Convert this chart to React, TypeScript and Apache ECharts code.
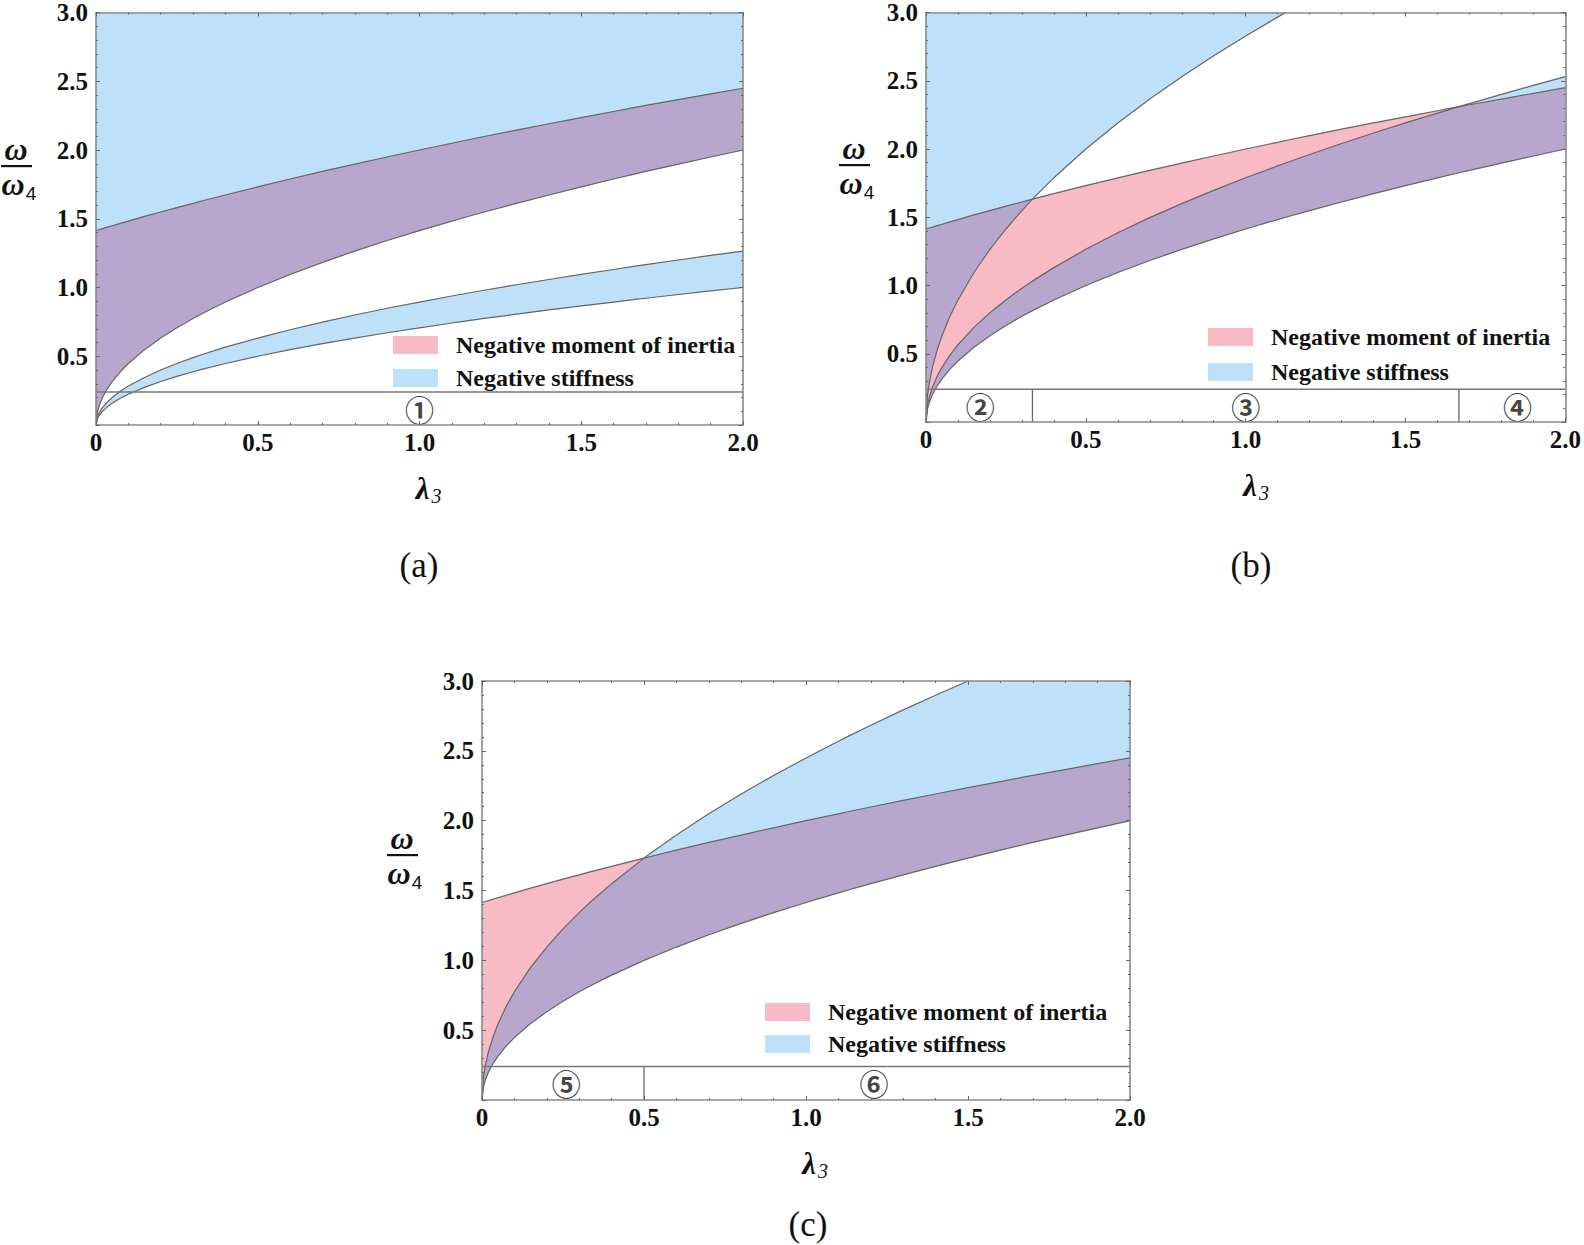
import React, { useEffect, useRef } from "react";
import * as echarts from "echarts";

// Shared λ3 sampling grid for every boundary curve
const LAMBDA = [
  0, 0.005, 0.01, 0.02, 0.035, 0.05, 0.075, 0.1,
  0.15, 0.2, 0.25, 0.3, 0.333, 0.4,
  0.5, 0.6, 0.7, 0.8, 0.9, 1.0,
  1.1, 1.125, 1.2, 1.3, 1.4, 1.5,
  1.6, 1.667, 1.7, 1.8, 1.9, 2.0,
];

// Upper / lower edges of the negative-moment-of-inertia band (all panels)
const INERTIA_UPPER = [
  1.414, 1.418, 1.421, 1.428, 1.439, 1.449, 1.466, 1.483,
  1.517, 1.549, 1.581, 1.612, 1.633, 1.673,
  1.732, 1.789, 1.844, 1.897, 1.949, 2.0,
  2.049, 2.062, 2.098, 2.145, 2.191, 2.236,
  2.28, 2.31, 2.324, 2.366, 2.408, 2.449,
];
const INERTIA_LOWER = [
  0, 0.1, 0.141, 0.2, 0.265, 0.316, 0.387, 0.447,
  0.548, 0.632, 0.707, 0.775, 0.816, 0.894,
  1.0, 1.095, 1.183, 1.265, 1.342, 1.414,
  1.483, 1.5, 1.549, 1.612, 1.673, 1.732,
  1.789, 1.826, 1.844, 1.897, 1.949, 2.0,
];

// Panel (a): narrow negative-stiffness band
const STIFF_A_LOWER = [
  0, 0.05, 0.071, 0.1, 0.132, 0.158, 0.194, 0.224,
  0.274, 0.316, 0.354, 0.387, 0.408, 0.447,
  0.5, 0.548, 0.592, 0.632, 0.671, 0.707,
  0.742, 0.75, 0.775, 0.806, 0.837, 0.866,
  0.894, 0.913, 0.922, 0.949, 0.975, 1.0,
];
const STIFF_A_UPPER = [
  0, 0.063, 0.089, 0.126, 0.167, 0.2, 0.245, 0.283,
  0.346, 0.4, 0.447, 0.49, 0.516, 0.566,
  0.632, 0.693, 0.748, 0.8, 0.849, 0.894,
  0.938, 0.949, 0.98, 1.02, 1.058, 1.095,
  1.131, 1.155, 1.166, 1.2, 1.233, 1.265,
];

// Panel (b): steep stiffness boundary (reaches ω/ω4 = 3 at λ3 = 1.125) and middle boundary
const STIFF_B_STEEP = [
  0, 0.2, 0.283, 0.4, 0.529, 0.632, 0.775, 0.894,
  1.095, 1.265, 1.414, 1.549, 1.633, 1.789,
  2.0, 2.191, 2.366, 2.53, 2.683, 2.828,
  2.966, 3.0,
];
const STIFF_B_MID = [
  0, 0.126, 0.179, 0.253, 0.335, 0.4, 0.49, 0.566,
  0.693, 0.8, 0.894, 0.98, 1.032, 1.131,
  1.265, 1.386, 1.497, 1.6, 1.697, 1.789,
  1.876, 1.897, 1.96, 2.04, 2.117, 2.191,
  2.263, 2.31, 2.332, 2.4, 2.466, 2.53,
];

// Panel (c): stiffness boundary (reaches ω/ω4 = 3 at λ3 = 1.5)
const STIFF_C_STEEP = [
  0, 0.173, 0.245, 0.346, 0.458, 0.548, 0.671, 0.775,
  0.949, 1.095, 1.225, 1.342, 1.414, 1.549,
  1.732, 1.897, 2.049, 2.191, 2.324, 2.449,
  2.569, 2.598, 2.683, 2.793, 2.898, 3.0,
];

// Zone strip along the bottom of each panel
const ZONE_LEVEL = 0.24;
const ZONE_LABEL_Y = 0.12;
const ZONE_A_TEXT = ["①"];
const ZONE_A_AT = [1.0];
const ZONE_A_DIVIDERS: number[] = [];
const ZONE_B_TEXT = ["②", "③", "④"];
const ZONE_B_AT = [0.17, 1.0, 1.85];
const ZONE_B_DIVIDERS = [0.333, 1.667];
const ZONE_C_TEXT = ["⑤", "⑥"];
const ZONE_C_AT = [0.26, 1.21];
const ZONE_C_DIVIDERS = [0.5];

const X_TICKS = [0, 0.5, 1.0, 1.5, 2.0];
const Y_MAX = 3;

const NAME_INERTIA = "Negative moment of inertia";
const NAME_STIFF = "Negative stiffness";
const NAME_BOTH = "Both";

const BLUE = "#bee0f8";
const PINK = "#f8bac4";
const PURPLE = "#b7a7cc";
const EDGE = "#666666";
const FRAME = "#8a8a8a";

const GRIDS = [
  { left: 96, top: 10, width: 647, height: 415 },
  { left: 926, top: 9, width: 642, height: 413 },
  { left: 482, top: 681, width: 648, height: 419 },
];

const idx = (v: number) => LAMBDA.indexOf(v);
const LAST = LAMBDA.length - 1;

function seg(ys: number[], from: number, to: number): number[][] {
  const out: number[][] = [];
  if (from <= to) for (let i = from; i <= to; i++) out.push([LAMBDA[i], ys[i]]);
  else for (let i = from; i >= to; i--) out.push([LAMBDA[i], ys[i]]);
  return out;
}

function region(panel: number, name: string, color: string, points: number[][]) {
  return {
    type: "custom",
    name,
    xAxisIndex: panel * 2,
    yAxisIndex: panel * 2,
    clip: true,
    silent: true,
    z: 1,
    itemStyle: { color },
    encode: { x: 0, y: 1 },
    data: points,
    renderItem: (params: any, api: any) => {
      if (params.dataIndex !== 0) return null;
      return {
        type: "polygon",
        shape: { points: points.map((p) => api.coord(p)) },
        style: { fill: color, stroke: color, lineWidth: 0.5 },
      };
    },
  };
}

function edge(panel: number, data: number[][], color = EDGE, width = 1.2) {
  return {
    type: "line",
    xAxisIndex: panel * 2,
    yAxisIndex: panel * 2,
    data,
    symbol: "none",
    showSymbol: false,
    silent: true,
    clip: true,
    z: 3,
    lineStyle: { color, width },
  };
}

function zoneSeries(panel: number, texts: string[], at: number[], dividers: number[]) {
  const list: any[] = [
    edge(panel, [[0, ZONE_LEVEL], [2, ZONE_LEVEL]], "#777", 1.5),
  ];
  dividers.forEach((d) => list.push(edge(panel, [[d, 0], [d, ZONE_LEVEL]], "#666", 1.3)));
  list.push({
    type: "scatter",
    xAxisIndex: panel * 2,
    yAxisIndex: panel * 2,
    silent: true,
    z: 4,
    symbolSize: 1,
    itemStyle: { color: "rgba(0,0,0,0)" },
    data: at.map((x, i) => ({ value: [x, ZONE_LABEL_Y], name: texts[i] })),
    label: {
      show: true,
      position: "inside",
      formatter: (p: any) => p.name,
      fontFamily: "Noto Sans CJK JP",
      fontWeight: "bold",
      fontSize: 29,
      color: "#111",
    },
  });
  return list;
}

function axesFor(panel: number) {
  const tickBase = {
    axisLine: { show: true, onZero: false, lineStyle: { color: FRAME, width: 1.6 } },
    axisTick: { show: true, inside: true, length: 4, lineStyle: { color: "#666", width: 1 } },
    minorTick: { show: true, splitNumber: 5, length: 2, lineStyle: { color: "#666", width: 1 } },
    splitLine: { show: false },
    z: 6,
  };
  const labelStyle = {
    fontFamily: "Liberation Serif",
    fontWeight: "bold",
    fontSize: 25,
    color: "#111",
  };
  const xs = [
    {
      ...tickBase,
      type: "value",
      gridIndex: panel,
      position: "bottom",
      min: X_TICKS[0],
      max: X_TICKS[X_TICKS.length - 1],
      interval: 0.5,
      axisLabel: {
        ...labelStyle,
        margin: 5,
        formatter: (v: number) => (v === 0 ? "0" : v.toFixed(1)),
      },
    },
    {
      ...tickBase,
      type: "value",
      gridIndex: panel,
      position: "top",
      min: X_TICKS[0],
      max: X_TICKS[X_TICKS.length - 1],
      interval: 0.5,
      axisLabel: { show: false },
    },
  ];
  const ys = [
    {
      ...tickBase,
      type: "value",
      gridIndex: panel,
      position: "left",
      min: 0,
      max: Y_MAX,
      interval: 0.5,
      axisLabel: {
        ...labelStyle,
        margin: 8,
        formatter: (v: number) => (v === 0 ? "" : v.toFixed(1)),
      },
    },
    {
      ...tickBase,
      type: "value",
      gridIndex: panel,
      position: "right",
      min: 0,
      max: Y_MAX,
      interval: 0.5,
      axisLabel: { show: false },
    },
  ];
  return { xs, ys };
}

// ω/ω4 fraction and λ3 subscript labels, plus the panel captions
const Y_TITLE = [
  { cx: 16, bar: 166 },
  { cx: 854, bar: 165 },
  { cx: 402, bar: 855 },
];
const CAPTIONS = ["(a)", "(b)", "(c)"];
const CAPTION_POS = [
  [419, 565],
  [1251, 565],
  [808, 1224],
];

function titleGraphics() {
  const els: any[] = [];
  Y_TITLE.forEach(({ cx, bar }) => {
    els.push({
      type: "text",
      x: cx,
      y: bar - 1,
      style: {
        text: "ω",
        font: 'italic bold 32px "Liberation Serif"',
        fill: "#111",
        textAlign: "center",
        textVerticalAlign: "bottom",
      },
    });
    els.push({
      type: "rect",
      shape: { x: cx - 15, y: bar - 1, width: 31, height: 2.2 },
      style: { fill: "#111" },
    });
    els.push({
      type: "text",
      x: cx - 3,
      y: bar + 2,
      style: {
        text: "ω",
        font: 'italic bold 32px "Liberation Serif"',
        fill: "#111",
        textAlign: "center",
        textVerticalAlign: "top",
      },
    });
    els.push({
      type: "text",
      x: cx + 15,
      y: bar + 27,
      style: {
        text: "4",
        font: '19px "Liberation Sans"',
        fill: "#111",
        textAlign: "center",
        textVerticalAlign: "middle",
      },
    });
  });
  GRIDS.forEach((g) => {
    const cx = g.left + g.width / 2 + 3;
    const cy = g.top + g.height + 63;
    els.push({
      type: "text",
      x: cx,
      y: cy,
      style: {
        text: "λ",
        font: 'italic bold 31px "Liberation Serif"',
        fill: "#111",
        textAlign: "center",
        textVerticalAlign: "middle",
      },
    });
    els.push({
      type: "text",
      x: cx + 14,
      y: cy + 8,
      style: {
        text: "3",
        font: 'italic 20px "Liberation Serif"',
        fill: "#111",
        textAlign: "center",
        textVerticalAlign: "middle",
      },
    });
  });
  CAPTIONS.forEach((c, i) => {
    els.push({
      type: "text",
      x: CAPTION_POS[i][0],
      y: CAPTION_POS[i][1],
      style: {
        text: c,
        font: '35px "Liberation Serif"',
        fill: "#111",
        textAlign: "center",
        textVerticalAlign: "middle",
      },
    });
  });
  return els;
}

const LEGEND_POS = [
  { left: 393, top: 333, itemGap: 9 },
  { left: 1208, top: 325, itemGap: 11 },
  { left: 765, top: 1000, itemGap: 8 },
];

function buildOption() {
  const iB1 = idx(0.333);
  const iB2 = idx(1.667);
  const iBs = idx(1.125);
  const iC1 = idx(0.5);
  const iCs = idx(1.5);

  const series: any[] = [
    // (a)
    region(0, NAME_STIFF, BLUE, [...seg(INERTIA_UPPER, 0, LAST), [2, Y_MAX], [0, Y_MAX]]),
    region(0, NAME_BOTH, PURPLE, [...seg(INERTIA_LOWER, 0, LAST), ...seg(INERTIA_UPPER, LAST, 0)]),
    region(0, NAME_STIFF, BLUE, [...seg(STIFF_A_LOWER, 0, LAST), ...seg(STIFF_A_UPPER, LAST, 0)]),
    edge(0, seg(INERTIA_UPPER, 0, LAST)),
    edge(0, seg(INERTIA_LOWER, 0, LAST)),
    edge(0, seg(STIFF_A_UPPER, 0, LAST)),
    edge(0, seg(STIFF_A_LOWER, 0, LAST)),
    ...zoneSeries(0, ZONE_A_TEXT, ZONE_A_AT, ZONE_A_DIVIDERS),

    // (b)
    region(1, NAME_STIFF, BLUE, [
      [0, Y_MAX],
      [LAMBDA[iBs], Y_MAX],
      ...seg(STIFF_B_STEEP, iBs, iB1),
      ...seg(INERTIA_UPPER, iB1, 0),
    ]),
    region(1, NAME_BOTH, PURPLE, [...seg(INERTIA_UPPER, 0, iB1), ...seg(STIFF_B_STEEP, iB1, 0)]),
    region(1, NAME_INERTIA, PINK, [
      ...seg(STIFF_B_STEEP, 0, iB1),
      ...seg(INERTIA_UPPER, iB1, iB2),
      ...seg(STIFF_B_MID, iB2, 0),
    ]),
    region(1, NAME_BOTH, PURPLE, [
      ...seg(INERTIA_LOWER, 0, LAST),
      ...seg(INERTIA_UPPER, LAST, iB2),
      ...seg(STIFF_B_MID, iB2, 0),
    ]),
    region(1, NAME_STIFF, BLUE, [...seg(INERTIA_UPPER, iB2, LAST), ...seg(STIFF_B_MID, LAST, iB2)]),
    edge(1, seg(INERTIA_UPPER, 0, LAST)),
    edge(1, seg(INERTIA_LOWER, 0, LAST)),
    edge(1, seg(STIFF_B_MID, 0, LAST)),
    edge(1, seg(STIFF_B_STEEP, 0, iBs)),
    ...zoneSeries(1, ZONE_B_TEXT, ZONE_B_AT, ZONE_B_DIVIDERS),

    // (c)
    region(2, NAME_INERTIA, PINK, [...seg(INERTIA_UPPER, 0, iC1), ...seg(STIFF_C_STEEP, iC1, 0)]),
    region(2, NAME_BOTH, PURPLE, [
      ...seg(STIFF_C_STEEP, 0, iC1),
      ...seg(INERTIA_UPPER, iC1, LAST),
      ...seg(INERTIA_LOWER, LAST, 0),
    ]),
    region(2, NAME_STIFF, BLUE, [
      ...seg(INERTIA_UPPER, iC1, LAST),
      [2, Y_MAX],
      [LAMBDA[iCs], Y_MAX],
      ...seg(STIFF_C_STEEP, iCs, iC1),
    ]),
    edge(2, seg(INERTIA_UPPER, 0, LAST)),
    edge(2, seg(INERTIA_LOWER, 0, LAST)),
    edge(2, seg(STIFF_C_STEEP, 0, iCs)),
    ...zoneSeries(2, ZONE_C_TEXT, ZONE_C_AT, ZONE_C_DIVIDERS),
  ];

  const xAxis: any[] = [];
  const yAxis: any[] = [];
  GRIDS.forEach((_, p) => {
    const { xs, ys } = axesFor(p);
    xAxis.push(...xs);
    yAxis.push(...ys);
  });

  const legend = LEGEND_POS.map((pos) => ({
    left: pos.left,
    top: pos.top,
    orient: "vertical",
    itemGap: pos.itemGap,
    itemWidth: 45,
    itemHeight: 18,
    selectedMode: false,
    padding: 0,
    data: [
      { name: NAME_INERTIA, icon: "rect", itemStyle: { color: PINK } },
      { name: NAME_STIFF, icon: "rect", itemStyle: { color: BLUE } },
    ],
    textStyle: {
      fontFamily: "Liberation Serif",
      fontWeight: "bold",
      fontSize: 24,
      lineHeight: 24,
      color: "#111",
      padding: [0, 0, 0, 13],
    },
  }));

  return {
    animation: false,
    backgroundColor: "#ffffff",
    grid: GRIDS.map((g) => ({ ...g, containLabel: false })),
    xAxis,
    yAxis,
    legend,
    graphic: titleGraphics(),
    series,
  };
}

export default function App() {
  const ref = useRef<HTMLDivElement>(null);
  useEffect(() => {
    document.body.style.margin = "0";
    if (!ref.current) return;
    const chart = echarts.init(ref.current, undefined, { renderer: "svg" });
    chart.setOption(buildOption() as any);
    return () => chart.dispose();
  }, []);
  return (
    <div
      ref={ref}
      style={{ position: "fixed", left: 0, top: 0, width: 1584, height: 1245, background: "#fff" }}
    />
  );
}
